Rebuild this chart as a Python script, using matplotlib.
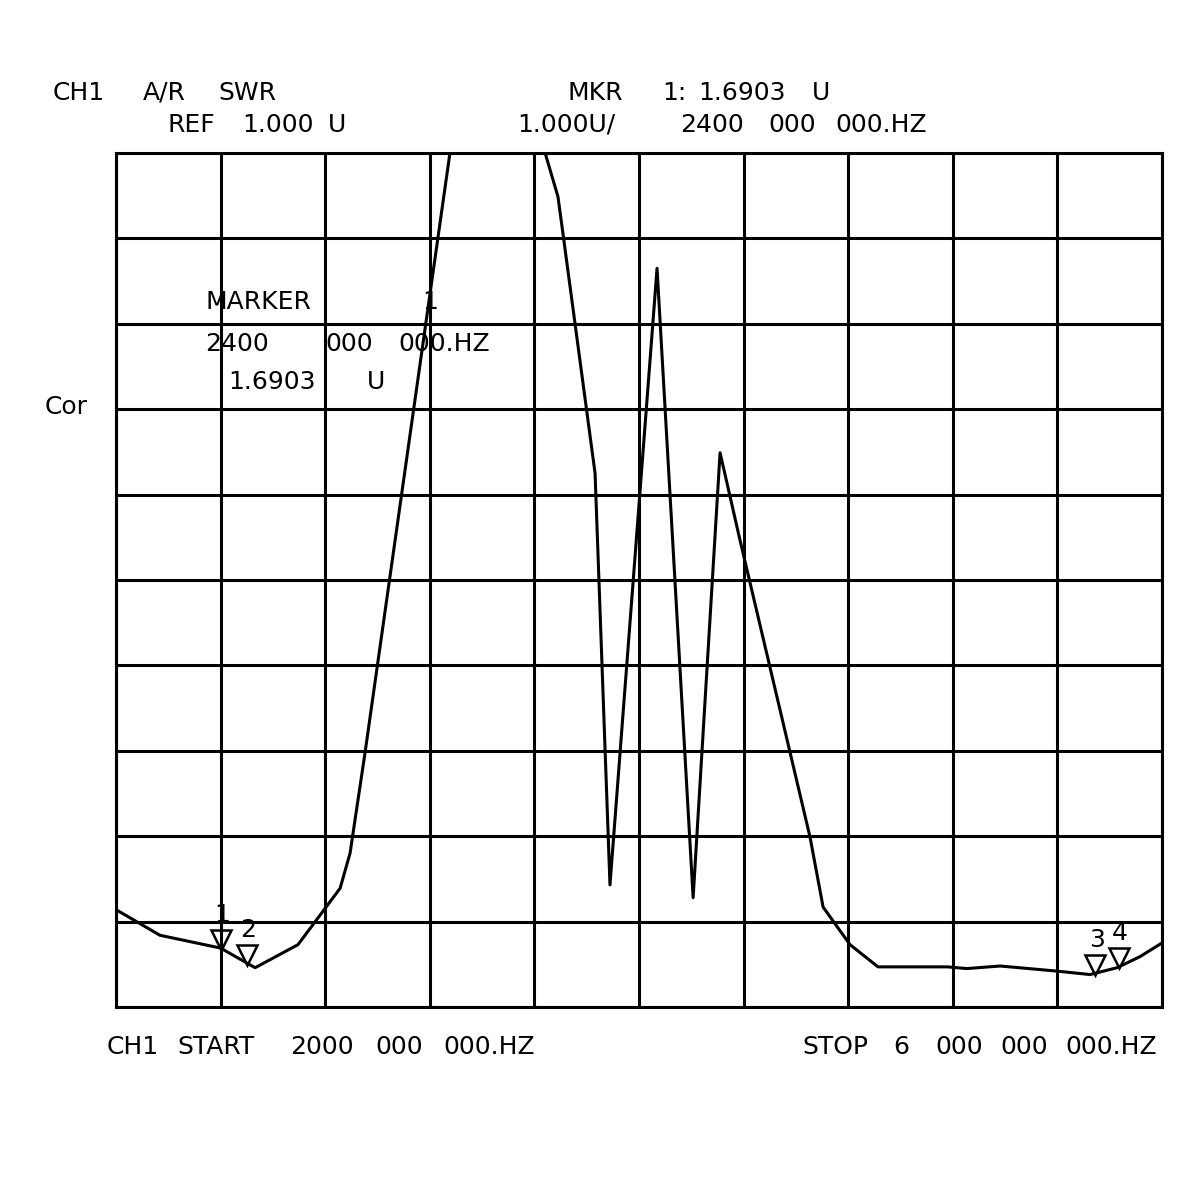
import numpy as np
import matplotlib.pyplot as plt
from matplotlib.transforms import offset_copy

# trace (GHz, SWR units)
freq_ghz = [2.000, 2.168, 2.400, 2.532, 2.696, 2.857, 2.895, 2.952, 3.277,
            3.384, 3.641, 3.690, 3.706, 3.832, 3.889, 4.069, 4.207,
            4.310, 4.386, 4.654, 4.704, 4.807, 4.914, 5.178, 5.254, 5.381,
            5.599, 5.725, 5.828, 5.916, 6.000]
swr = [2.14, 1.84, 1.69, 1.46, 1.73, 2.39, 2.80, 3.97, 11.0,
       13.34, 11.0, 10.49, 10.13, 7.25, 2.43, 9.65, 2.28,
       7.49, 6.47, 2.99, 2.17, 1.73, 1.47, 1.47, 1.45, 1.48,
       1.42, 1.38, 1.46, 1.59, 1.75]

marker_labels = ["1", "2", "3", "4"]
marker_freq = [2.40, 2.50, 5.745, 5.835]

W, H = 1200, 1200
fig = plt.figure(figsize=(12, 12), dpi=100)
fig.patch.set_facecolor("white")

ax = fig.add_axes([116 / W, 1 - 1007 / H, 1046 / W, 854 / H])
ax.set_xlim(2.0, 6.0)
ax.set_ylim(1.0, 11.0)
ax.set_xticks(np.linspace(2.0, 6.0, 11))
ax.set_yticks(np.linspace(1.0, 11.0, 11))
ax.tick_params(length=0, labelbottom=False, labelleft=False)
ax.grid(True, color="black", linewidth=2.2)
for sp in ax.spines.values():
    sp.set_linewidth(2.2)

ax.plot(freq_ghz, swr, color="black", linewidth=2.2, clip_on=True)

# marker triangles sitting on the trace, numbers above
tri_tr = offset_copy(ax.transData, fig=fig, x=0, y=6, units="points")
num_tr = offset_copy(ax.transData, fig=fig, x=1, y=24, units="points")
for lab, mf in zip(marker_labels, marker_freq):
    mv = np.interp(mf, freq_ghz, swr)
    ax.plot([mf], [mv], marker="v", markersize=14, markerfacecolor="none",
            markeredgecolor="black", markeredgewidth=1.8, transform=tri_tr)
    ax.text(mf, mv, lab, transform=num_tr, ha="center", va="center",
            fontsize=18, family="DejaVu Sans")

fs = 18


def words(y, items):
    # items: (left x in px, word)
    for x, s in items:
        fig.text(x / W, 1 - y / H, s, ha="left", va="center", fontsize=fs,
                 family="DejaVu Sans", color="black")


words(93, [(53, "CH1"), (143, "A/R"), (218, "SWR"),
           (568, "MKR"), (662, "1:"), (698, "1.6903"), (812, "U")])
words(125, [(167, "REF"), (242, "1.000"), (328, "U"),
            (517, "1.000U/"), (680, "2400"), (768, "000"), (835, "000.HZ")])
words(407, [(45, "Cor")])
words(302, [(205, "MARKER"), (422, "1")])
words(344, [(205, "2400"), (325, "000"), (398, "000.HZ")])
words(382, [(228, "1.6903"), (367, "U")])
words(1047, [(107, "CH1"), (177, "START"), (290, "2000"), (375, "000"),
             (443, "000.HZ")])
words(1047, [(802, "STOP"), (893, "6"), (935, "000"), (1000, "000"),
             (1065, "000.HZ")])

fig.savefig("out.png", dpi=100, facecolor="white")
